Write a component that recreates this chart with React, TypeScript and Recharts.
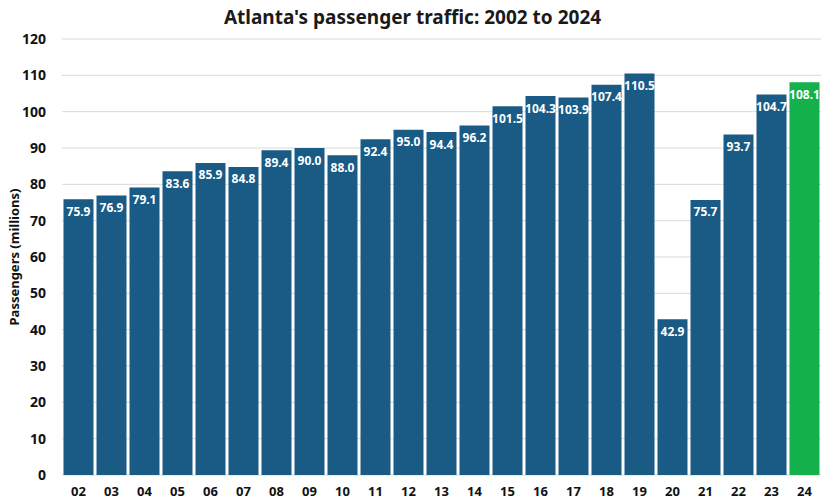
import { Bar, BarChart, CartesianGrid, Cell, LabelList, XAxis, YAxis } from "recharts"

const years = ["02", "03", "04", "05", "06", "07", "08", "09", "10", "11", "12", "13", "14", "15", "16", "17", "18", "19", "20", "21", "22", "23", "24"]
const passengers = [75.9, 76.9, 79.1, 83.6, 85.9, 84.8, 89.4, 90.0, 88.0, 92.4, 95.0, 94.4, 96.2, 101.5, 104.3, 103.9, 107.4, 110.5, 42.9, 75.7, 93.7, 104.7, 108.1]
const yTicks = [0, 10, 20, 30, 40, 50, 60, 70, 80, 90, 100, 110, 120]

const data = years.map((year, i) => ({ year, value: passengers[i] }))

const font = "'Noto Sans', sans-serif"

export default function App() {
  return (
    <div
      style={{
        position: "fixed",
        top: 0,
        left: 0,
        width: 825,
        height: 500,
        overflow: "hidden",
        background: "#fff",
        fontFamily: font,
      }}
    >
      <div
        style={{
          position: "absolute",
          top: 4,
          width: "100%",
          textAlign: "center",
          fontSize: 19,
          fontWeight: 700,
          color: "#1a1a1a",
        }}
      >
        Atlanta's passenger traffic: 2002 to 2024
      </div>
      <div
        style={{
          position: "absolute",
          left: 14,
          top: 257,
          transform: "translate(-50%, -50%) rotate(-90deg)",
          whiteSpace: "nowrap",
          fontSize: 13,
          fontWeight: 700,
          color: "#111",
        }}
      >
        Passengers (millions)
      </div>
      <BarChart
        width={825}
        height={500}
        data={data}
        margin={{ top: 39, right: 4, bottom: 0, left: 0 }}
        barCategoryGap={1.5}
      >
        <CartesianGrid vertical={false} stroke="#d9d9d9" />
        <XAxis
          dataKey="year"
          axisLine={false}
          tickLine={false}
          tickSize={0}
          height={25}
          tick={{ fill: "#111", fontSize: 13, fontWeight: 700, fontFamily: font }}
          tickMargin={12}
          interval={0}
        />
        <YAxis
          domain={[0, 120]}
          ticks={yTicks}
          axisLine={false}
          tickLine={false}
          tickSize={0}
          width={62}
          tickMargin={16}
          tick={{ fill: "#111", fontSize: 14, fontWeight: 700, fontFamily: font }}
        />
        <Bar dataKey="value" isAnimationActive={false}>
          {data.map((d, i) => (
            <Cell key={d.year} fill={i === data.length - 1 ? "#13b04b" : "#195b85"} />
          ))}
          <LabelList
            dataKey="value"
            position="insideTop"
            offset={8}
            formatter={(v: number) => v.toFixed(1)}
            style={{ fill: "#fff", fontSize: 12, fontWeight: 700, fontFamily: font }}
          />
        </Bar>
      </BarChart>
    </div>
  )
}
